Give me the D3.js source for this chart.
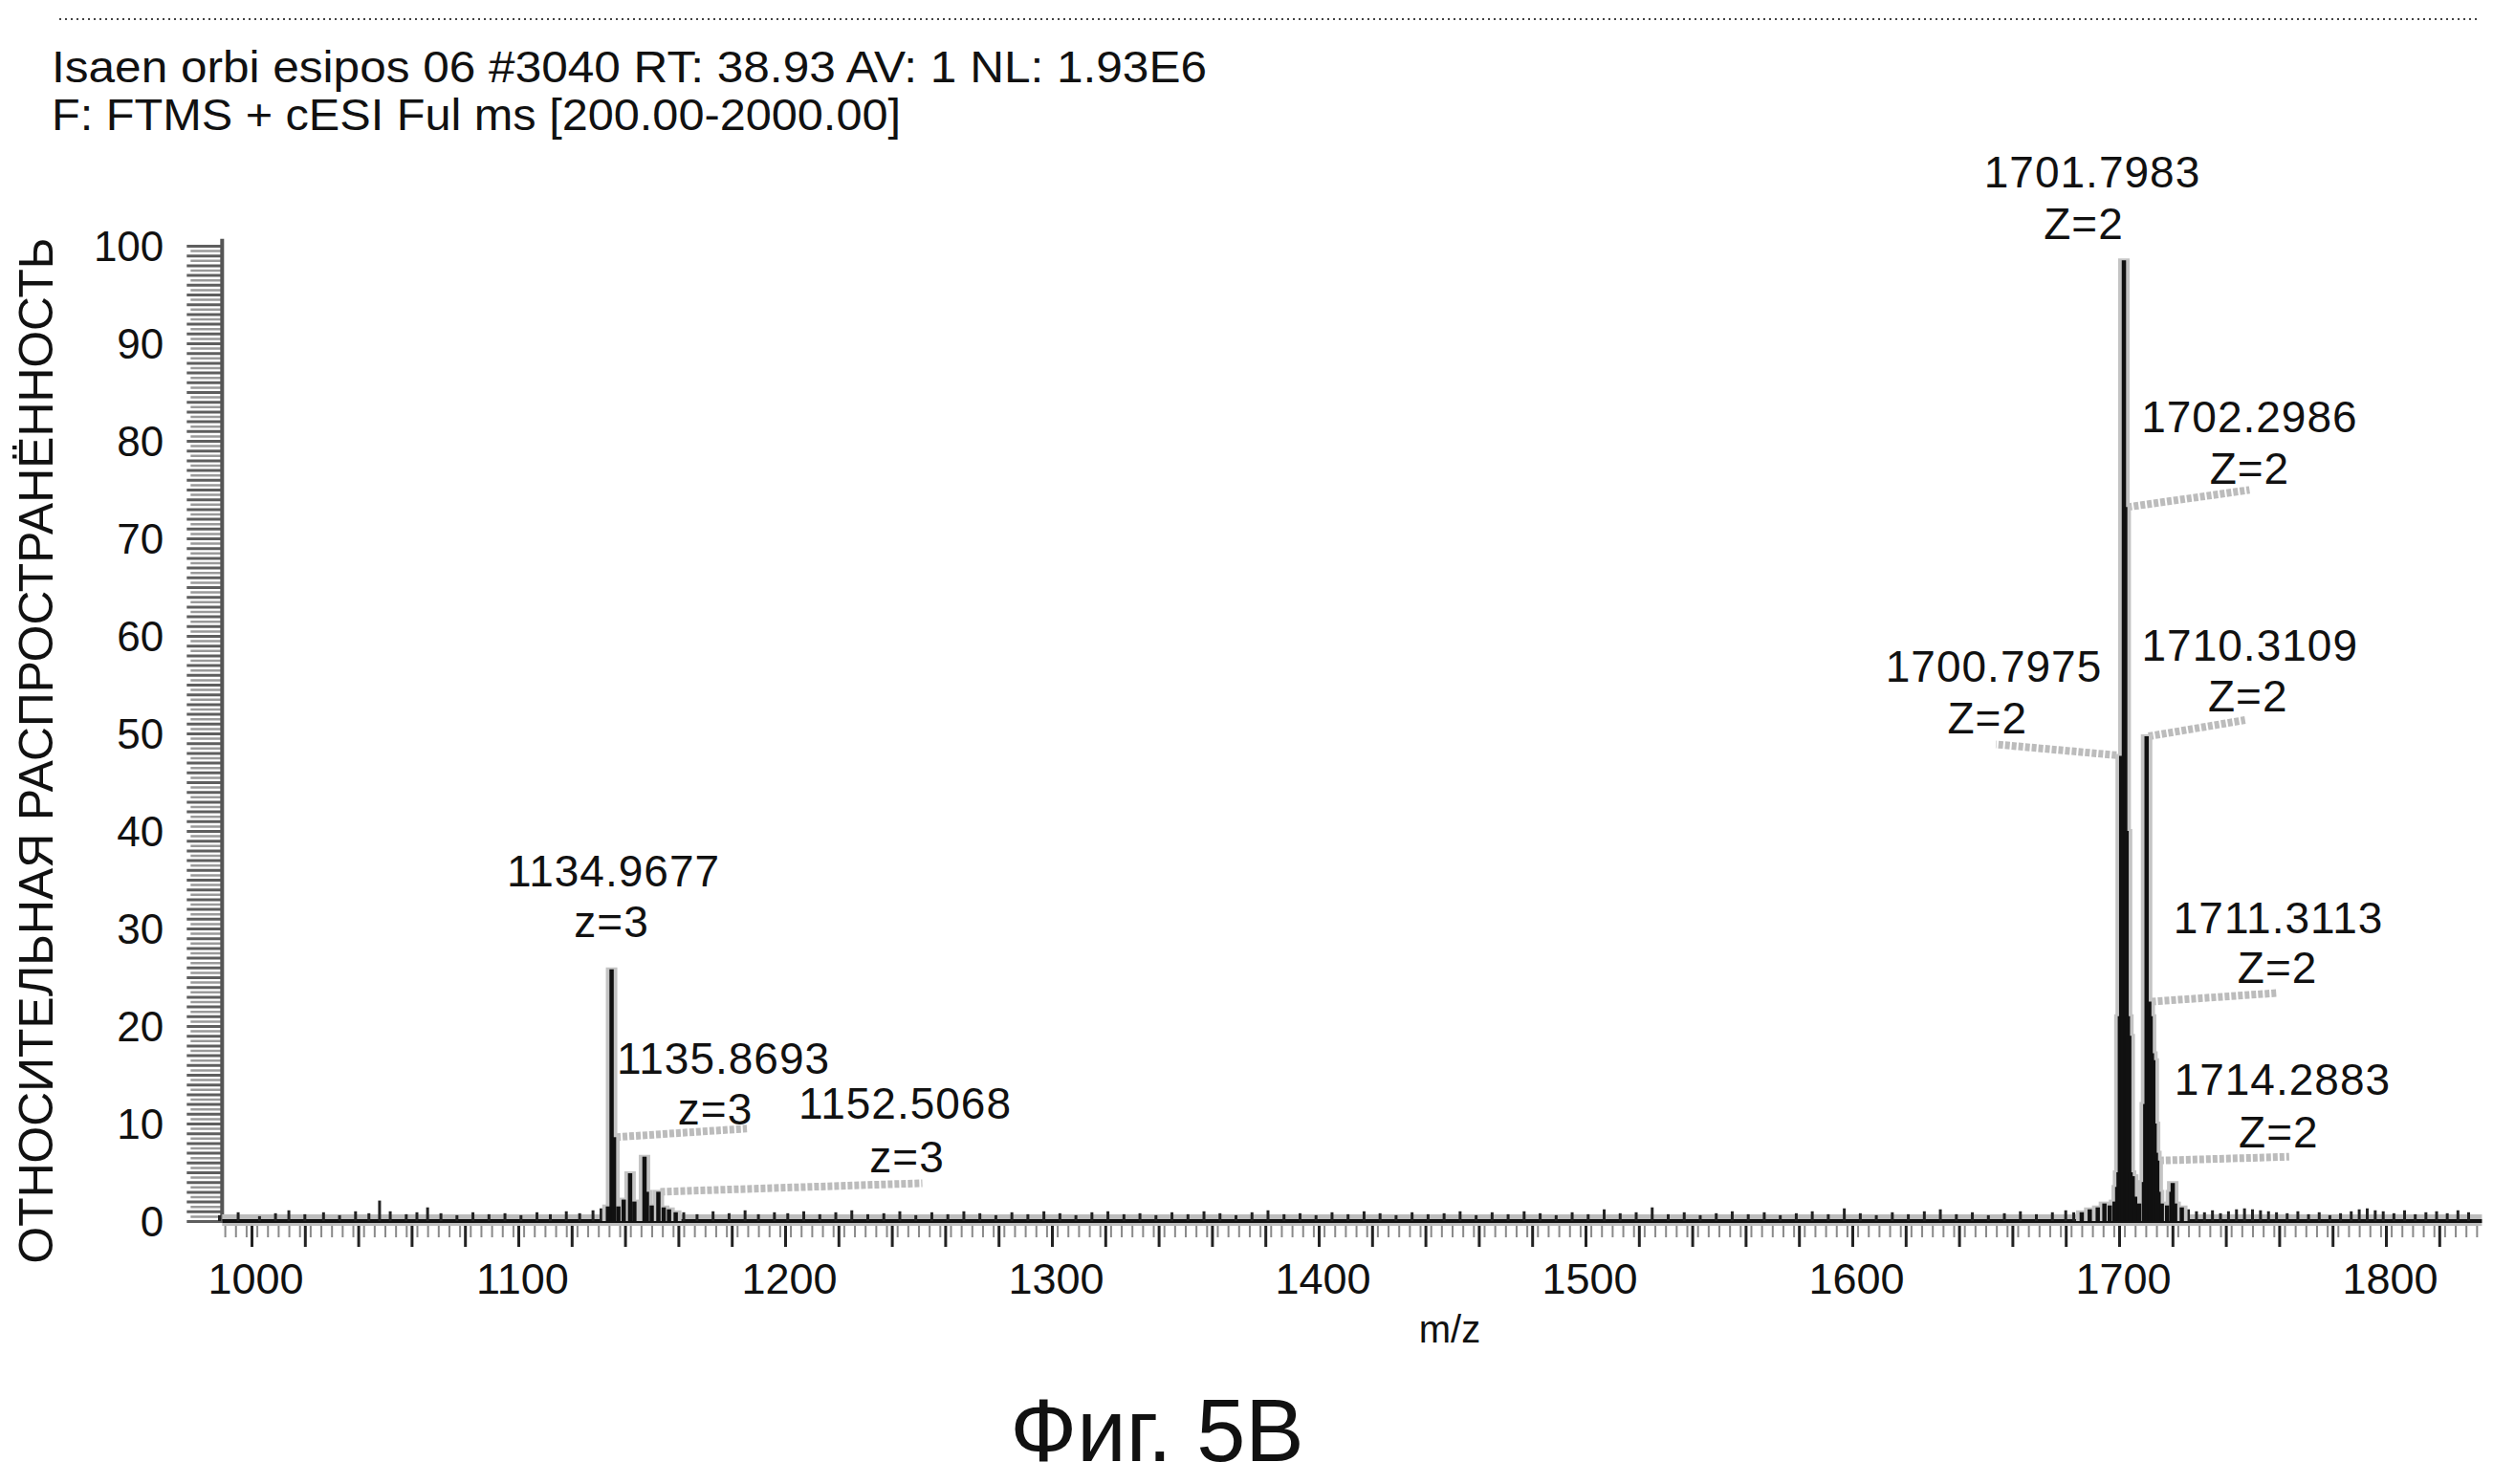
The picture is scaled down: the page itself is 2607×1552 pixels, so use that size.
<!DOCTYPE html>
<html><head><meta charset="utf-8">
<script src="https://cdn.jsdelivr.net/npm/d3@7"></script>
<style>
body{margin:0;background:#fff}
svg{display:block}
text{font-family:"Liberation Sans",Arial,Helvetica,sans-serif;fill:#111}
</style>
</head><body>
<svg id="chart" width="2607" height="1552"></svg>
<script>
// ---------------- DATA ----------------
const titleLine1 = "Isaen orbi esipos 06 #3040 RT: 38.93 AV: 1 NL: 1.93E6";
const titleLine2 = "F: FTMS + cESI Ful ms [200.00-2000.00]";
const yAxisTitle = "ОТНОСИТЕЛЬНАЯ РАСПРОСТРАНЁННОСТЬ";
const xAxisTitle = "m/z";
const figureCaption = "Фиг. 5B";

const xTicks = [1000, 1100, 1200, 1300, 1400, 1500, 1600, 1700, 1800];
const yTicks = [0, 10, 20, 30, 40, 50, 60, 70, 80, 90, 100];
const xExtent = [989, 1836];

// main peaks (m/z, relative abundance %)
const peakMz = [1133.6, 1134.9677, 1135.3010, 1135.8693, 1137.5, 1139.5, 1141.9, 1143.5, 1147.3, 1148.2, 1150.0, 1152.5068, 1154.5, 1156.5, 1159.0,
  1686.0, 1689.0, 1692.0, 1694.5, 1696.5, 1698.3, 1699.30, 1699.80, 1700.2975, 1700.7975, 1701.2979, 1701.7983, 1702.2986, 1702.7990, 1703.2993, 1703.80, 1704.30, 1705.10, 1706.0, 1707.5,
  1709.31, 1709.81, 1710.3109, 1710.8111, 1711.3113, 1711.8115, 1712.31, 1712.81, 1713.30, 1713.80, 1714.2883, 1714.79, 1716.0, 1718.0, 1719.6, 1720.1, 1721.0, 1723.5];
const peakInt = [1.5, 25.8, 8.0, 8.6, 1.5, 2.2, 4.9, 2.0, 6.6, 3.0, 1.6, 3.0, 1.4, 1.2, 0.9,
  0.9, 1.2, 1.4, 1.8, 1.6, 2.0, 3.5, 5.0, 21.0, 47.7, 45.0, 98.5, 73.2, 40.0, 21.0, 19.0, 5.0, 4.6, 2.5, 1.8,
  4.0, 12.0, 49.7, 22.0, 22.5, 21.0, 17.2, 16.5, 10.0, 7.0, 6.2, 3.0, 1.8, 1.6, 3.0, 3.9, 1.8, 1.4];

// baseline noise
const noiseMz = [988, 995, 1003, 1009, 1014, 1020, 1027, 1033, 1039, 1044, 1048, 1052, 1058, 1062, 1066, 1071, 1077, 1083, 1089, 1095, 1101, 1107, 1112, 1118, 1123, 1128, 1131,
  1162, 1167, 1173, 1179, 1185, 1190, 1196, 1201, 1207, 1213, 1219, 1225, 1231, 1237, 1243, 1249, 1255, 1261, 1267, 1273, 1279, 1285, 1291, 1297, 1303, 1309, 1315, 1321, 1327, 1333, 1339, 1345, 1351, 1357, 1363, 1369, 1375, 1381, 1387, 1393, 1399,
  1405, 1411, 1417, 1423, 1429, 1435, 1441, 1447, 1453, 1459, 1465, 1471, 1477, 1483, 1489, 1495, 1501, 1507, 1513, 1519, 1525, 1531, 1537, 1543, 1549, 1555, 1561, 1567, 1573, 1579, 1585, 1591, 1597,
  1603, 1609, 1615, 1621, 1627, 1633, 1639, 1645, 1651, 1657, 1663, 1669, 1675, 1680, 1683,
  1726, 1729, 1732, 1735, 1738, 1741, 1744, 1747, 1750, 1753, 1756, 1759, 1763, 1767, 1771, 1775, 1779, 1783, 1787, 1790, 1793, 1796, 1799, 1803, 1807, 1811, 1815, 1819, 1823, 1827, 1831];
const noiseInt = [0.6, 0.9, 0.5, 0.8, 1.1, 0.7, 0.9, 0.6, 1.0, 0.8, 2.1, 1.0, 0.7, 0.9, 1.4, 0.8, 0.6, 0.9, 0.7, 0.8, 0.6, 0.9, 0.7, 1.0, 0.8, 1.1, 1.3,
  0.9, 0.7, 1.0, 0.8, 1.1, 0.7, 0.9, 0.8, 1.0, 0.7, 0.9, 1.1, 0.7, 0.8, 1.0, 0.6, 0.9, 0.7, 1.0, 0.8, 0.6, 0.9, 0.7, 1.0, 0.8, 0.6, 0.9, 1.0, 0.7, 0.8, 0.6, 0.9, 0.7, 1.0, 0.8, 0.6, 0.9, 1.1, 0.7, 0.8, 0.6,
  0.9, 0.7, 1.0, 0.8, 0.6, 0.9, 0.7, 0.8, 1.0, 0.6, 0.9, 0.7, 1.0, 0.8, 0.6, 0.9, 0.7, 1.2, 0.8, 0.9, 1.4, 0.7, 0.9, 0.6, 0.8, 1.0, 0.7, 0.9, 0.6, 0.8, 1.0, 0.7, 1.3,
  0.8, 0.6, 0.9, 0.7, 1.0, 1.2, 0.7, 0.9, 0.6, 0.8, 1.0, 0.7, 0.9, 1.1, 0.9,
  1.2, 1.0, 0.9, 1.1, 0.8, 1.0, 1.2, 1.3, 1.2, 1.1, 1.0, 0.9, 0.8, 1.0, 0.7, 0.9, 0.6, 0.8, 1.0, 1.2, 1.3, 1.1, 1.0, 0.8, 1.1, 0.7, 0.9, 1.0, 0.8, 1.1, 0.9];

// annotated peaks
const labelMz = [1134.9677, 1135.8693, 1152.5068, 1700.7975, 1701.7983, 1702.2986, 1710.3109, 1711.3113, 1714.2883];
const labelText = ["1134.9677", "1135.8693", "1152.5068", "1700.7975", "1701.7983", "1702.2986", "1710.3109", "1711.3113", "1714.2883"];
const labelCharge = ["z=3", "z=3", "z=3", "Z=2", "Z=2", "Z=2", "Z=2", "Z=2", "Z=2"];

// ---------------- LAYOUT ----------------
const svg = d3.select("#chart");
const x = d3.scaleLinear().domain([1000, 1800]).range([263, 2495]);
const y = d3.scaleLinear().domain([0, 100]).range([1277, 257]);
const FONT = '"Liberation Sans",Arial,Helvetica,sans-serif';

// top dotted rule
svg.append("line").attr("x1", 62).attr("x2", 2594).attr("y1", 20).attr("y2", 20)
  .attr("stroke", "#444").attr("stroke-width", 2).attr("stroke-dasharray", "2,4");

// header
svg.append("text").attr("x", 54).attr("y", 86).attr("font-size", 46)
  .attr("textLength", 1208).attr("lengthAdjust", "spacingAndGlyphs").text(titleLine1);
svg.append("text").attr("x", 54).attr("y", 136).attr("font-size", 46)
  .attr("textLength", 888).attr("lengthAdjust", "spacingAndGlyphs").text(titleLine2);

// y axis title
svg.append("text").attr("transform", "translate(55,785) rotate(-90)")
  .attr("text-anchor", "middle").attr("font-size", 50)
  .attr("textLength", 1073).attr("lengthAdjust", "spacingAndGlyphs").text(yAxisTitle);

// y axis: dense hatched minor ticks
const x0 = x(xExtent[0]);
const yMinor2 = svg.append("g").attr("transform", `translate(${x0},0)`)
  .call(d3.axisLeft(y).tickValues(d3.range(0.5, 100.5, 1)).tickSize(33).tickFormat(""));
yMinor2.select(".domain").remove();
yMinor2.selectAll("line").attr("stroke", "#9a9a9a").attr("stroke-width", 2.5);
const yMinor = svg.append("g").attr("transform", `translate(${x0},0)`)
  .call(d3.axisLeft(y).tickValues(d3.range(0, 100.5, 1)).tickSize(37).tickFormat(""));
yMinor.select(".domain").remove();
yMinor.selectAll("line").attr("stroke", "#5e5e5e").attr("stroke-width", 3);
svg.append("line").attr("x1", x0).attr("x2", x0).attr("y1", y(0)).attr("y2", y(100.7))
  .attr("stroke", "#555").attr("stroke-width", 4);

const yLab = svg.append("g").attr("transform", `translate(${x0},0)`)
  .call(d3.axisLeft(y).tickValues(yTicks).tickSize(0).tickPadding(61));
yLab.select(".domain").remove();
yLab.selectAll("text").attr("font-size", 44).attr("font-family", FONT).attr("fill", "#111").attr("dy", "0.36em");

// x axis
const base = y(0);
const xMinor = svg.append("g").attr("transform", `translate(0,${base})`)
  .call(d3.axisBottom(x).tickValues(d3.range(990, 1836, 4)).tickSize(17).tickFormat(""));
xMinor.select(".domain").remove();
xMinor.selectAll("line").attr("stroke", "#8a8a8a").attr("stroke-width", 2);
const xMajor = svg.append("g").attr("transform", `translate(0,${base})`)
  .call(d3.axisBottom(x).tickValues(d3.range(1000, 1836, 20)).tickSize(27).tickFormat(""));
xMajor.select(".domain").remove();
xMajor.selectAll("line").attr("stroke", "#222").attr("stroke-width", 3);

const xLab = svg.append("g").attr("transform", `translate(0,${base})`)
  .call(d3.axisBottom(x).tickValues(xTicks).tickSize(0).tickPadding(44).tickFormat(d3.format("d")));
xLab.select(".domain").remove();
xLab.selectAll("text").attr("font-size", 45).attr("font-family", FONT).attr("fill", "#111").attr("dx", 4);

svg.append("text").attr("x", 1516).attr("y", 1404).attr("text-anchor", "middle")
  .attr("font-size", 40).text(xAxisTitle);
svg.append("text").attr("x", 1210).attr("y", 1528).attr("text-anchor", "middle")
  .attr("font-size", 92).text(figureCaption);

// baseline band
svg.append("line").attr("x1", x0).attr("x2", x(xExtent[1])).attr("y1", base - 1).attr("y2", base - 1)
  .attr("stroke", "#bdbdbd").attr("stroke-width", 12);
svg.append("line").attr("x1", x0).attr("x2", x(xExtent[1])).attr("y1", base).attr("y2", base)
  .attr("stroke", "#111").attr("stroke-width", 4);

// noise sticks
svg.append("g").selectAll("line").data(noiseMz.map((m, i) => [m, noiseInt[i]])).join("line")
  .attr("x1", d => x(d[0])).attr("x2", d => x(d[0]))
  .attr("y1", base).attr("y2", d => y(d[1]))
  .attr("stroke", "#222").attr("stroke-width", 3);

const peaks = peakMz.map((m, i) => [m, peakInt[i]]);

// label leader lines
const layout = {
  "1134.9677": {num: [2, -87, "middle"], z: [0, -34], lead: null},
  "1135.8693": {num: [3, -66, "start"], z: [106, -13], lead: [139, -9]},
  "1152.5068": {num: [258, -76, "middle"], z: [260, -20], lead: [276, -9]},
  "1700.7975": {num: [-20, -77, "end"], z: [-140, -23], lead: [-131, -12]},
  "1701.7983": {num: [-33, -76, "middle"], z: [-42, -22], lead: null},
  "1702.2986": {num: [130, -78, "middle"], z: [130, -24], lead: [130, -18]},
  "1710.3109": {num: [108, -79, "middle"], z: [106, -26], lead: [103, -17]},
  "1711.3113": {num: [135, -72, "middle"], z: [134, -20], lead: [134, -9]},
  "1714.2883": {num: [131, -69, "middle"], z: [127, -14], lead: [138, -4]}
};
const labels = labelMz.map((m, i) => {
  const p = peaks.find(d => d[0] === m);
  return {mz: m, int: p ? p[1] : 0, text: labelText[i], z: labelCharge[i], L: layout[labelText[i]]};
});

svg.append("g").selectAll("path").data(labels.filter(d => d.L.lead)).join("path")
  .attr("d", d => {
    const px = x(d.mz), py = y(d.int);
    return `M${px + 2},${py} L${px + d.L.lead[0]},${py + d.L.lead[1]}`;
  })
  .attr("fill", "none").attr("stroke", "#bcbcbc").attr("stroke-width", 8)
  .attr("stroke-dasharray", "5,2");

// peak halos and sticks
svg.append("g").selectAll("line").data(peaks).join("line")
  .attr("x1", d => x(d[0])).attr("x2", d => x(d[0]))
  .attr("y1", base).attr("y2", d => y(d[1]) - 2)
  .attr("stroke", "#c4c4c4").attr("stroke-width", 12);
svg.append("g").selectAll("line").data(peaks).join("line")
  .attr("x1", d => x(d[0])).attr("x2", d => x(d[0]))
  .attr("y1", base).attr("y2", d => y(d[1]))
  .attr("stroke", "#111").attr("stroke-width", 4.5);

// labels
const lg = svg.append("g");
labels.forEach(d => {
  const px = x(d.mz), py = y(d.int);
  lg.append("text").attr("x", px + d.L.num[0]).attr("y", py + d.L.num[1])
    .attr("text-anchor", d.L.num[2]).attr("font-size", 46).attr("letter-spacing", 1).text(d.text);
  lg.append("text").attr("x", px + d.L.z[0]).attr("y", py + d.L.z[1])
    .attr("text-anchor", "middle").attr("font-size", 46).attr("letter-spacing", 1).text(d.z);
});
</script>
</body></html>
